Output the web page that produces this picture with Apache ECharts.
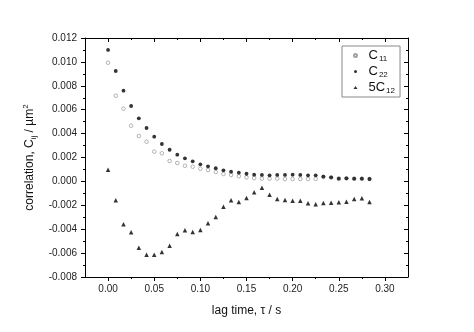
<!DOCTYPE html>
<html>
<head>
<meta charset="utf-8">
<script src="https://cdn.jsdelivr.net/npm/echarts@6/dist/echarts.min.js"></script>
<style>
  html, body { margin: 0; padding: 0; background: #fff; }
  #chart { width: 474px; height: 332px; }
</style>
</head>
<body>
<div id="chart"></div>
<script>
// Lag times (s), sampled at 120 frames per second
const lagTimes = [
  0.0000, 0.0083, 0.0167, 0.0250, 0.0333, 0.0417, 0.0500, 0.0583, 0.0667, 0.0750,
  0.0833, 0.0917, 0.1000, 0.1083, 0.1167, 0.1250, 0.1333, 0.1417, 0.1500, 0.1583,
  0.1667, 0.1750, 0.1833, 0.1917, 0.2000, 0.2083, 0.2167, 0.2250, 0.2333, 0.2417,
  0.2500, 0.2583, 0.2667, 0.2750, 0.2833
];

// Correlation C11 (µm²)
const c11 = [
  0.00993, 0.00717, 0.00609, 0.00466, 0.00380, 0.00332, 0.00249, 0.00235, 0.00171, 0.00154,
  0.00131, 0.00123, 0.00106, 0.00095, 0.00079, 0.00062, 0.00054, 0.00043, 0.00034, 0.00028,
  0.00023, 0.00023, 0.00023, 0.00020, 0.00020, 0.00020, 0.00020, 0.00022, 0.00038, 0.00032,
  0.00025, 0.00026, 0.00023, 0.00023, 0.00020
];

// Correlation C22 (µm²)
const c22 = [
  0.01100, 0.00924, 0.00759, 0.00631, 0.00528, 0.00447, 0.00374, 0.00313, 0.00265, 0.00224,
  0.00193, 0.00168, 0.00143, 0.00126, 0.00110, 0.00093, 0.00081, 0.00073, 0.00064, 0.00056,
  0.00054, 0.00051, 0.00054, 0.00054, 0.00056, 0.00054, 0.00051, 0.00051, 0.00040, 0.00034,
  0.00023, 0.00026, 0.00023, 0.00023, 0.00020
];

// Cross correlation, scaled: 5 * C12 (µm²)
const c12x5 = [
  0.00098, -0.00158, -0.00359, -0.00426, -0.00555, -0.00613, -0.00613, -0.00591, -0.00538, -0.00440,
  -0.00409, -0.00423, -0.00407, -0.00351, -0.00297, -0.00212, -0.00158, -0.00172, -0.00139, -0.00091,
  -0.00053, -0.00111, -0.00147, -0.00156, -0.00161, -0.00161, -0.00183, -0.00192, -0.00180, -0.00178,
  -0.00175, -0.00170, -0.00147, -0.00141, -0.00172
];

// Axis ticks
const xMajorTicks = [0.00, 0.05, 0.10, 0.15, 0.20, 0.25, 0.30];
const xMinorTicks = [0.025, 0.075, 0.125, 0.175, 0.225, 0.275];

const seriesNames = ['C11', 'C22', '5C12'];
const legendRich = { 'C11': '{b|C}{s|11}', 'C22': '{b|C}{s|22}', '5C12': '{b|5C}{s|12}' };

const FONT = 'Liberation Sans, Arial, sans-serif';
const pairs = (ys) => lagTimes.map((t, i) => [t, ys[i]]);

const axisLine = { show: true, onZero: false, lineStyle: { color: '#000', width: 1 } };

function xAxisDef(position, ticks, len, inside, withLabels, withLine) {
  return {
    type: 'value', position: position, min: -0.025, max: 0.325,
    axisLine: Object.assign({}, axisLine, { show: withLine }),
    axisTick: { show: true, customValues: ticks, length: len, inside: inside,
                lineStyle: { color: '#000', width: 1 } },
    axisLabel: withLabels ? {
      show: true, customValues: ticks, margin: 7, color: '#222', fontSize: 10, fontFamily: FONT,
      formatter: (v) => v.toFixed(2)
    } : { show: false },
    splitLine: { show: false }
  };
}

const chart = echarts.init(document.getElementById('chart'), null, { renderer: 'canvas' });

chart.setOption({
  animation: false,
  backgroundColor: '#fff',
  grid: { left: 85, top: 38, right: 66, bottom: 55, containLabel: false },
  legend: {
    data: seriesNames,
    orient: 'vertical',
    left: 342, top: 46,
    padding: [3, 5, 2, 11],
    itemWidth: 4, itemHeight: 3, itemGap: 2,
    borderColor: '#888', borderWidth: 1,
    formatter: (name) => legendRich[name],
    textStyle: {
      color: '#111', fontFamily: FONT, padding: [0, 0, 0, 6],
      rich: {
        b: { fontSize: 13, lineHeight: 15, fontFamily: FONT, color: '#111' },
        s: { fontSize: 8, lineHeight: 8, verticalAlign: 'bottom', fontFamily: FONT, color: '#111', padding: [0, 0, 0, 1] }
      }
    }
  },
  xAxis: [
    Object.assign(xAxisDef('bottom', xMajorTicks, 4, false, true, true), {
      name: 'lag time, τ / s', nameLocation: 'middle', nameGap: 28,
      nameTextStyle: { fontSize: 12, color: '#111', fontFamily: FONT }
    }),
    xAxisDef('bottom', xMinorTicks, 2, false, false, false),
    xAxisDef('top', xMajorTicks, 4, true, false, true),
    xAxisDef('top', xMinorTicks, 2, true, false, false)
  ],
  yAxis: [
    {
      type: 'value', position: 'left', min: -0.008, max: 0.012, interval: 0.002,
      axisLine: axisLine,
      axisTick: { show: true, length: 4, inside: false, lineStyle: { color: '#000' } },
      minorTick: { show: true, splitNumber: 2, length: 2, lineStyle: { color: '#000' } },
      axisLabel: { margin: 8, color: '#222', fontSize: 10, fontFamily: FONT, formatter: (v) => v.toFixed(3) },
      splitLine: { show: false },
      name: '{n|correlation, C}{sub|ij}{n| / µm}{sup|2}',
      nameLocation: 'middle', nameGap: 47, nameRotate: 90,
      nameTextStyle: {
        color: '#111', fontFamily: FONT,
        rich: {
          n: { fontSize: 12, lineHeight: 16, fontFamily: FONT, color: '#111' },
          sub: { fontSize: 8, lineHeight: 8, verticalAlign: 'bottom', fontFamily: FONT, color: '#111' },
          sup: { fontSize: 8, lineHeight: 8, verticalAlign: 'top', fontFamily: FONT, color: '#111' }
        }
      }
    },
    {
      type: 'value', position: 'right', min: -0.008, max: 0.012, interval: 0.002,
      axisLine: axisLine,
      axisTick: { show: true, length: 4, inside: true, lineStyle: { color: '#000' } },
      minorTick: { show: true, splitNumber: 2, length: 2, lineStyle: { color: '#000' } },
      axisLabel: { show: false },
      splitLine: { show: false }
    }
  ],
  series: [
    {
      name: 'C11', type: 'scatter', xAxisIndex: 0, yAxisIndex: 0,
      data: pairs(c11), symbol: 'circle', symbolSize: 3.6,
      itemStyle: { color: '#fff', borderColor: '#8a8a8a', borderWidth: 0.8 }
    },
    {
      name: 'C22', type: 'scatter', xAxisIndex: 0, yAxisIndex: 0,
      data: pairs(c22), symbol: 'circle', symbolSize: 3.8,
      itemStyle: { color: '#000' }
    },
    {
      name: '5C12', type: 'scatter', xAxisIndex: 0, yAxisIndex: 0,
      data: pairs(c12x5), symbol: 'triangle', symbolSize: 4.5,
      itemStyle: { color: '#000' }
    }
  ]
});
</script>
</body>
</html>
